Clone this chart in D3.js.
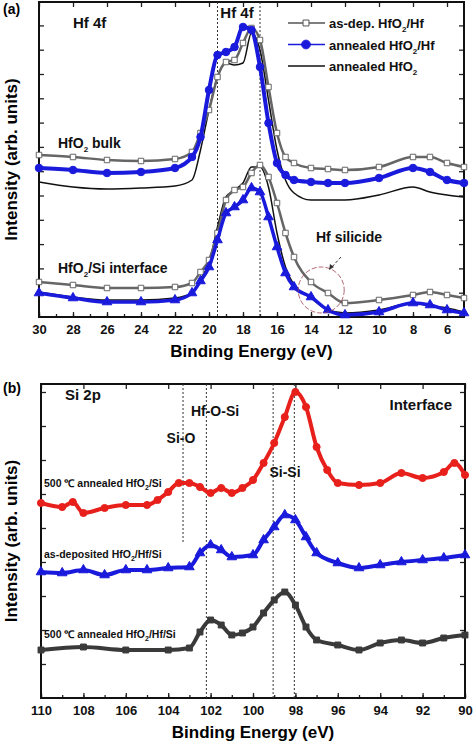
<!DOCTYPE html>
<html>
<head>
<meta charset="utf-8">
<script src="https://cdn.jsdelivr.net/npm/d3@7"></script>
<style>
  body { margin: 0; background: #fff; }
  text { font-family: "Liberation Sans", Arial, sans-serif; font-weight: bold; }
</style>
</head>
<body>
<div id="chart"></div>
<script>
// ---- panel (a) Hf 4f data ----
const hfEnergy = [30, 28, 26, 24, 22, 21, 20.5, 20, 19.5, 19, 18.5, 18, 17.5, 17, 16.5, 16, 15.5, 15, 14, 13, 12, 10, 8, 7, 6, 5]
const bulkAsDep = [162, 160, 157, 156, 158, 165, 184, 207, 240, 255, 257, 274, 289, 277, 230, 184, 160, 154, 149, 148, 147, 150, 160, 160, 154, 150]
const bulkAnnHf = [149, 147, 144, 145, 149, 160, 180, 227, 262, 265, 270, 290, 287, 250, 194, 154, 142, 137, 135, 134, 134, 139, 149, 145, 137, 134]
const bulkAnn = [135, 130, 128, 129, 131, 137, 167, 207, 240, 254, 252, 254, 284, 267, 217, 167, 137, 124, 117, 117, 117, 122, 130, 125, 122, 120]
const ifAsDep = [35, 32, 29, 29, 30, 34, 45, 57, 84, 117, 127, 130, 144, 152, 140, 114, 84, 60, 35, 24, 14, 17, 22, 25, 22, 19]
const ifAnnHf = [24, 19, 15, 15, 17, 24, 36, 50, 77, 104, 110, 117, 129, 125, 100, 70, 44, 30, 20, 7, 2, 5, 14, 12, 7, 4]
const ifAnn = [25, 20, 17, 17, 19, 24, 38, 54, 90, 120, 127, 134, 150, 150, 130, 84, 50, 32, 19, 7, 4, 7, 14, 11, 9, 5]
const hfTicks = [30, 28, 26, 24, 22, 20, 18, 16, 14, 12, 10, 8, 6]

// ---- panel (b) Si 2p data ----
const siRedE = [110, 109, 108.5, 108, 107, 106, 105, 104.5, 104, 103.5, 103, 102.5, 102, 101.5, 101, 100.5, 100, 99.5, 99, 98.5, 98, 97.5, 97, 96.5, 96, 95, 94, 93, 92, 91, 90.5, 90]
const siRed = [195, 191, 196, 185, 190, 193, 193, 198, 206, 215, 215, 211, 205, 210, 205, 210, 218, 235, 255, 281, 306, 291, 251, 228, 215, 213, 215, 225, 220, 226, 235, 223]
const siBlueE = [110, 109, 108, 107, 106, 105, 104, 103, 102.5, 102, 101.5, 101, 100, 99.5, 99, 98.5, 98, 97.5, 97, 96, 95, 94, 93, 92, 91, 90]
const siBlue = [126, 125, 128, 123, 128, 128, 130, 131, 145, 153, 148, 141, 143, 158, 171, 183, 178, 161, 145, 135, 130, 133, 136, 138, 140, 143]
const siGrayE = [110, 108, 106, 104, 103, 102.5, 102, 101.5, 101, 100.5, 100, 99.5, 99, 98.5, 98, 97.5, 97, 96, 95, 94, 93, 92, 91, 90]
const siGray = [48, 51, 48, 48, 50, 66, 78, 73, 63, 65, 71, 85, 98, 106, 93, 71, 58, 53, 48, 55, 58, 55, 60, 63]
const siTicks = [110, 108, 106, 104, 102, 100, 98, 96, 94, 92, 90]

const W = 474, H = 746
const svg = d3.select('#chart').append('svg').attr('width', W).attr('height', H)

function panel (o) {
  const x = d3.scaleLinear().domain(o.xDomain).range([o.left, o.right])
  const y = d3.scaleLinear().domain([0, o.bottom - o.top]).range([o.bottom, o.top])
  const g = svg.append('g')

  // ticks
  g.append('g').attr('transform', `translate(0,${o.bottom})`)
    .call(d3.axisBottom(x).tickValues(o.ticks).tickSize(-5).tickPadding(8).tickFormat(d3.format('d')))
    .call(a => a.selectAll('text').attr('font-size', 13).attr('fill', '#111'))
  g.append('g').attr('transform', `translate(0,${o.bottom})`)
    .call(d3.axisBottom(x).ticks(o.ticks.length * 2).tickSize(-3).tickFormat(''))
  g.append('g').attr('transform', `translate(0,${o.top})`)
    .call(d3.axisTop(x).tickValues(o.ticks).tickSize(-5).tickFormat(''))
  const yt = d3.range(o.yStep, o.bottom - o.top, o.yStep)
  g.append('g').attr('transform', `translate(${o.left},0)`)
    .call(d3.axisLeft(y).tickValues(yt).tickSize(-5).tickFormat(''))
  g.append('g').attr('transform', `translate(${o.right},0)`)
    .call(d3.axisRight(y).tickValues(yt).tickSize(-5).tickFormat(''))
  g.selectAll('.domain').remove()
  g.selectAll('line').attr('stroke', '#222').attr('stroke-width', 1.3)

  g.append('rect').attr('x', o.left).attr('y', o.top)
    .attr('width', o.right - o.left).attr('height', o.bottom - o.top)
    .attr('fill', 'none').attr('stroke', '#111').attr('stroke-width', 2)

  svg.append('text').attr('x', (o.left + o.right) / 2).attr('y', o.bottom + 40)
    .attr('text-anchor', 'middle').attr('font-size', 17).text('Binding Energy (eV)')
  svg.append('text').attr('transform', `translate(17,${(o.top + o.bottom) / 2}) rotate(-90)`)
    .attr('text-anchor', 'middle').attr('font-size', 17).text('Intensity (arb. units)')
  return { x, y }
}

const line = (x, y) => d3.line().x(d => x(d[0])).y(d => y(d[1])).curve(d3.curveMonotoneX)

function series (sc, es, vs, opt) {
  const pts = es.map((e, i) => [e, vs[i]])
  svg.append('path').datum(pts).attr('d', line(sc.x, sc.y)(pts))
    .attr('fill', 'none').attr('stroke', opt.stroke).attr('stroke-width', opt.width || 1.3)
  if (!opt.marker) return
  const sym = d3.symbol().type(opt.marker).size(opt.size || 30)
  svg.append('g').selectAll('path').data(pts).join('path')
    .attr('transform', d => `translate(${sc.x(d[0])},${sc.y(d[1])})`)
    .attr('d', sym).attr('fill', opt.fill).attr('stroke', opt.stroke).attr('stroke-width', 1)
}

function vline (sc, e, y0, y1) {
  svg.append('line').attr('x1', sc.x(e)).attr('x2', sc.x(e)).attr('y1', y0).attr('y2', y1)
    .attr('stroke', '#333').attr('stroke-width', 1).attr('stroke-dasharray', '2,2')
}

function label (x, y, t, size, anchor) {
  return svg.append('text').attr('x', x).attr('y', y).attr('font-size', size)
    .attr('text-anchor', anchor || 'start').attr('fill', '#111').text(t)
}

// ---- panel (a) ----
const a = panel({ xDomain: [30, 5], left: 39, right: 464, top: 2, bottom: 317, ticks: hfTicks, yStep: 24.3 })
vline(a, 19.5, 2, 317)
vline(a, 17, 2, 317)
series(a, hfEnergy, bulkAnn, { stroke: '#111', width: 1.5 })
series(a, hfEnergy, ifAnn, { stroke: '#111', width: 1.5 })
series(a, hfEnergy, bulkAsDep, { stroke: '#666', marker: d3.symbolSquare, fill: '#fff', size: 30, width: 2.5 })
series(a, hfEnergy, ifAsDep, { stroke: '#666', marker: d3.symbolSquare, fill: '#fff', size: 30, width: 2.5 })
series(a, hfEnergy, bulkAnnHf, { stroke: '#1a1adc', marker: d3.symbolCircle, fill: '#1a1adc', size: 45, width: 4 })
series(a, hfEnergy, ifAnnHf, { stroke: '#1a1adc', marker: d3.symbolTriangle, fill: '#1a1adc', size: 40, width: 3.5 })

svg.append('text').attr('x', 3).attr('y', 14).attr('font-size', 14).text('(a)')
label(73, 28, 'Hf 4f', 15)
label(237, 18, 'Hf 4f', 15, 'middle')
const legend = [
  { t: 'as-dep. HfO', s: '/Hf', stroke: '#555', marker: d3.symbolSquare, fill: '#fff', size: 35 },
  { t: 'annealed HfO', s: '/Hf', stroke: '#1a1adc', marker: d3.symbolCircle, fill: '#1a1adc', size: 60 },
  { t: 'annealed HfO', s: '', stroke: '#111', marker: null }
]
legend.forEach((l, i) => {
  const yy = 23 + i * 21.5
  svg.append('line').attr('x1', 288).attr('x2', 325).attr('y1', yy).attr('y2', yy)
    .attr('stroke', l.stroke).attr('stroke-width', 1.5)
  if (l.marker) {
    svg.append('path').attr('transform', `translate(306,${yy})`)
      .attr('d', d3.symbol().type(l.marker).size(l.size)).attr('fill', l.fill).attr('stroke', l.stroke)
  }
  const t = label(329, yy + 5, l.t, 13)
  t.append('tspan').attr('dy', 4).attr('font-size', 8).text('2')
  t.append('tspan').attr('dy', -4).text(l.s)
})
const bulk = label(58, 148, 'HfO', 14)
bulk.append('tspan').attr('dy', 4).attr('font-size', 8).text('2')
bulk.append('tspan').attr('dy', -4).text(' bulk')
const intf = label(58, 273, 'HfO', 14)
intf.append('tspan').attr('dy', 4).attr('font-size', 8).text('2')
intf.append('tspan').attr('dy', -4).text('/Si interface')
label(316, 242, 'Hf silicide', 14)
svg.append('circle').attr('cx', a.x(13.4)).attr('cy', 290).attr('r', 23)
  .attr('fill', 'none').attr('stroke', '#a04050').attr('stroke-width', 0.8).attr('stroke-dasharray', '5,2')
svg.append('line').attr('x1', 341).attr('y1', 257).attr('x2', 331).attr('y2', 268)
  .attr('stroke', '#333').attr('stroke-dasharray', '3,2')
svg.append('path').attr('d', 'M329,270 L330,264 L334,267 Z').attr('fill', '#333')

// ---- panel (b) ----
const b = panel({ xDomain: [110, 90], left: 41, right: 465, top: 384, bottom: 698, ticks: siTicks, yStep: 34 })
vline(b, 103.3, 384, 543)
vline(b, 102.2, 384, 698)
vline(b, 99.05, 384, 698)
vline(b, 98.05, 384, 698)
series(b, siRedE, siRed, { stroke: '#e8201c', marker: d3.symbolCircle, fill: '#e8201c', size: 40, width: 4 })
series(b, siBlueE, siBlue, { stroke: '#1a1adc', marker: d3.symbolTriangle, fill: '#1a1adc', size: 40, width: 4 })
series(b, siGrayE, siGray, { stroke: '#3a3a3a', marker: d3.symbolSquare, fill: '#3a3a3a', size: 35, width: 4 })

svg.append('text').attr('x', 3).attr('y', 393).attr('font-size', 14).text('(b)')
label(65, 400, 'Si 2p', 15)
label(452, 410, 'Interface', 15, 'end')
label(215, 416, 'Hf-O-Si', 14, 'middle')
label(181, 443, 'Si-O', 14, 'middle')
label(285, 477, 'Si-Si', 14, 'middle')
const curveLabels = [
  { y: 487, a: '500 ℃ annealed HfO', b: '/Si' },
  { y: 558, a: 'as-deposited HfO', b: '/Hf/Si' },
  { y: 638, a: '500 ℃ annealed HfO', b: '/Hf/Si' }
]
curveLabels.forEach(c => {
  const t = label(44, c.y, c.a, 10.5)
  t.append('tspan').attr('dy', 3).attr('font-size', 7).text('2')
  t.append('tspan').attr('dy', -3).text(c.b)
})
</script>
</body>
</html>
